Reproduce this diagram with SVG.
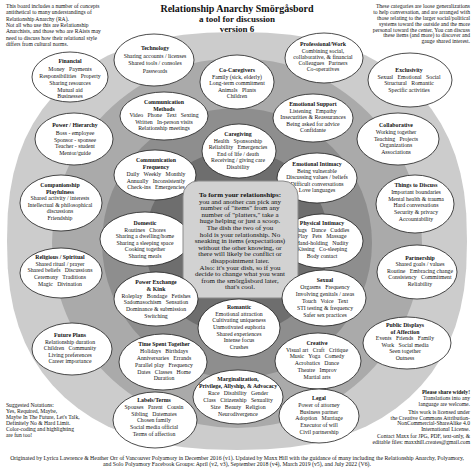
<svg xmlns="http://www.w3.org/2000/svg" width="474" height="475" viewBox="0 0 474 475">
<style>
text{font-family:"Liberation Serif","DejaVu Serif",serif;fill:#111;white-space:pre}
.t{font-size:5.8px;text-anchor:middle}
.b{font-weight:bold}
.n ellipse{fill:#fff;stroke:#1e1e1e;stroke-width:0.8}
.s{font-size:5.6px}
.r{text-anchor:end}
.c{font-size:7px;text-anchor:middle}
.ti{font-weight:bold;text-anchor:middle}
</style>
<rect width="474" height="475" fill="#fff"/>
<g id="background">
<path fill="#cccccc" d="M467,241 L466.27,268.36 464.08,289.59 460.45,308.76 455.38,326.47 448.89,342.96 441.02,358.3 431.77,372.52 421.19,385.61 409.3,397.57 396.13,408.37 381.73,417.99 366.08,426.39 349.2,433.54 331.06,439.44 311.57,444.05 290.47,447.35 267.11,449.34 237,450 206.89,449.34 183.53,447.35 162.43,444.05 142.94,439.44 124.8,433.54 107.92,426.39 92.27,417.99 77.87,408.37 64.7,397.57 52.81,385.61 42.23,372.52 32.98,358.3 25.11,342.96 18.62,326.47 13.55,308.76 9.92,289.59 7.73,268.36 7,241 7.73,213.64 9.92,192.41 13.55,173.24 18.62,155.53 25.11,139.04 32.98,123.7 42.23,109.48 52.81,96.39 64.7,84.43 77.87,73.63 92.27,64.01 107.92,55.61 124.8,48.46 142.94,42.56 162.43,37.95 183.53,34.65 206.89,32.66 237,32 267.11,32.66 290.47,34.65 311.57,37.95 331.06,42.56 349.2,48.46 366.08,55.61 381.73,64.01 396.13,73.63 409.3,84.43 421.19,96.39 431.77,109.48 441.02,123.7 448.89,139.04 455.38,155.53 460.45,173.24 464.08,192.41 466.27,213.64 Z"/>
<circle cx="237" cy="243" r="185" fill="#aaaaaa"/>
<circle cx="237" cy="243" r="135" fill="#8e8e8e"/>
<circle cx="237" cy="242" r="92" fill="#6e6e6e"/>
</g>
<g id="title">
<text class="ti" x="237" y="12" font-size="10">Relationship Anarchy Smörgåsbord</text>
<text class="ti" x="237" y="21.5" font-size="9">a tool for discussion</text>
<text class="ti" x="237" y="31.5" font-size="9">version 6</text>
</g>
<g id="note-top-left" class="s">
<text x="6" y="8">This board includes a number of concepts</text>
<text x="6" y="14.3">antithetical to many understandings of</text>
<text x="6" y="20.6">Relationship Anarchy (RA).</text>
<text x="6" y="26.9">Not all who use this are Relationship</text>
<text x="6" y="33.2">Anarchists, and those who are RAists may</text>
<text x="6" y="39.5">need to discuss how their relational style</text>
<text x="6" y="45.8">differs from cultural norms.</text>
</g>
<g id="note-top-right" class="s r">
<text class="r" x="470" y="8">These categories are loose generalizations</text>
<text class="r" x="470" y="14">to help conversation, and are arranged with</text>
<text class="r" x="470" y="20">those relating to the larger social/political</text>
<text class="r" x="470" y="26">systems toward the outside and the more</text>
<text class="r" x="470" y="31.5">personal toward the center. You can discuss</text>
<text class="r" x="470" y="37">these items (and more) to discover and</text>
<text class="r" x="470" y="43">gauge shared interest.</text>
</g>
<g id="connectors"></g>
<g id="technology" class="n"><ellipse cx="154" cy="60" rx="40" ry="26"/>
<text class="t b" x="155" y="49.5">Technology</text>
<text class="t" x="155" y="58">Sharing accounts / licenses</text>
<text class="t" x="155" y="65">Shared tools / consoles</text>
<text class="t" x="155" y="72.5">Passwords</text></g>
<g id="financial" class="n"><ellipse cx="70" cy="77" rx="38" ry="25"/>
<text class="t b" x="70" y="63">Financial</text>
<text class="t" x="70" y="71">Money   Payments</text>
<text class="t" x="70" y="78">Responsibilities   Property</text>
<text class="t" x="70" y="85">Sharing resources</text>
<text class="t" x="70" y="91.5">Mutual aid</text>
<text class="t" x="70" y="98">Businesses</text></g>
<g id="co-caregivers" class="n"><ellipse cx="237" cy="82" rx="37" ry="27"/>
<text class="t b" x="237" y="72">Co-Caregivers</text>
<text class="t" x="237" y="78.5">Family (sick, elderly)</text>
<text class="t" x="237" y="85">Long-term commitment</text>
<text class="t" x="237" y="91.5">Animals   Plants</text>
<text class="t" x="237" y="98">Children</text></g>
<g id="professional" class="n"><ellipse cx="324" cy="58" rx="39" ry="25"/>
<text class="t b" x="323" y="46">Professional/Work</text>
<text class="t" x="323" y="52.5">Combining social,</text>
<text class="t" x="323" y="58.5">collaborative, &amp; financial</text>
<text class="t" x="323" y="64.5">Colleagues   Partners</text>
<text class="t" x="323" y="71">Co-operatives</text></g>
<g id="exclusivity" class="n"><ellipse cx="410" cy="80" rx="42" ry="27"/>
<text class="t b" x="409" y="72">Exclusivity</text>
<text class="t" x="409" y="78.5">Sexual   Emotional   Social</text>
<text class="t" x="409" y="85">Structural   Romantic</text>
<text class="t" x="409" y="91.5">Specific activities</text></g>
<g id="communication-methods" class="n"><ellipse cx="164" cy="116" rx="44" ry="24"/>
<text class="t b" x="164" y="104">Communication</text>
<text class="t b" x="164" y="110.5">Methods</text>
<text class="t" x="164" y="117">Video   Phone   Text   Sexting</text>
<text class="t" x="164" y="123.5">Written   In-person visits</text>
<text class="t" x="164" y="130">Relationship meetings</text></g>
<g id="power-hierarchy" class="n"><ellipse cx="74" cy="139" rx="39" ry="26"/>
<text class="t b" x="75" y="127">Power / Hierarchy</text>
<text class="t" x="75" y="135">Boss - employee</text>
<text class="t" x="75" y="141.5">Sponsor - sponsee</text>
<text class="t" x="75" y="148">Teacher - student</text>
<text class="t" x="75" y="154.5">Mentor/guide</text></g>
<g id="emotional-support" class="n"><ellipse cx="313" cy="118" rx="40" ry="24"/>
<text class="t b" x="313" y="106">Emotional Support</text>
<text class="t" x="313" y="112.5">Listening   Empathy</text>
<text class="t" x="313" y="119">Insecurities &amp; Reassurances</text>
<text class="t" x="313" y="125.5">Being asked for advice</text>
<text class="t" x="313" y="132">Confidante</text></g>
<g id="collaborative" class="n"><ellipse cx="398" cy="139" rx="41" ry="26"/>
<text class="t b" x="396" y="127">Collaborative</text>
<text class="t" x="396" y="134">Working together</text>
<text class="t" x="396" y="140.5">Teaching   Projects</text>
<text class="t" x="396" y="147">Organizations</text>
<text class="t" x="396" y="154">Associations</text></g>
<g id="caregiving" class="n"><ellipse cx="239" cy="151" rx="37" ry="27"/>
<text class="t b" x="238" y="136">Caregiving</text>
<text class="t" x="238" y="142.5">Health   Sponsorship</text>
<text class="t" x="238" y="149">Reliability   Emergencies</text>
<text class="t" x="238" y="155.5">End of life / death</text>
<text class="t" x="238" y="162">Receiving / giving care</text>
<text class="t" x="238" y="168.5">Disability</text></g>
<g id="communication-frequency" class="n"><ellipse cx="155" cy="175" rx="41" ry="25"/>
<text class="t b" x="156" y="162">Communication</text>
<text class="t b" x="156" y="169">Frequency</text>
<text class="t" x="156" y="176">Daily   Weekly   Monthly</text>
<text class="t" x="156" y="182.5">Annually   Inconsistently</text>
<text class="t" x="156" y="189">Check-ins   Emergencies</text></g>
<g id="emotional-intimacy" class="n"><ellipse cx="317" cy="178" rx="40" ry="25"/>
<text class="t b" x="317" y="166">Emotional Intimacy</text>
<text class="t" x="317" y="172.5">Being vulnerable</text>
<text class="t" x="317" y="179">Discussing values / beliefs</text>
<text class="t" x="317" y="185.5">Difficult conversations</text>
<text class="t" x="317" y="192">Love languages</text></g>
<g id="companionship" class="n"><ellipse cx="61" cy="203" rx="41" ry="28"/>
<text class="t b" x="60" y="187">Companionship</text>
<text class="t b" x="60" y="193.5">Playfulness</text>
<text class="t" x="60" y="200">Shared activity / interests</text>
<text class="t" x="60" y="206.5">Intellectual &amp; philosophical</text>
<text class="t" x="60" y="213">discussions</text>
<text class="t" x="60" y="219.5">Friendship</text></g>
<g id="things-to-discuss" class="n"><ellipse cx="415" cy="204" rx="39" ry="29"/>
<text class="t b" x="416" y="187">Things to Discuss</text>
<text class="t" x="416" y="194">Important boundaries</text>
<text class="t" x="416" y="200.5">Mental health &amp; trauma</text>
<text class="t" x="416" y="207">Hard conversations</text>
<text class="t" x="416" y="214">Security &amp; privacy</text>
<text class="t" x="416" y="220.5">Accountability</text></g>
<g id="domestic" class="n"><ellipse cx="145" cy="239" rx="45" ry="27"/>
<text class="t b" x="145" y="225">Domestic</text>
<text class="t" x="145" y="231.5">Routines   Chores</text>
<text class="t" x="145" y="238">Sharing a dwelling/home</text>
<text class="t" x="145" y="244.5">Sharing a sleeping space</text>
<text class="t" x="145" y="251">Cooking together</text>
<text class="t" x="145" y="257.5">Sharing meals</text></g>
<g id="physical-intimacy" class="n"><ellipse cx="322" cy="241" rx="41" ry="27"/>
<text class="t b" x="322" y="225">Physical Intimacy</text>
<text class="t" x="322" y="231.5">Hugs   Dance   Cuddles</text>
<text class="t" x="322" y="238">Play   Pets   Massage</text>
<text class="t" x="322" y="244.5">Hand-holding   Nudity</text>
<text class="t" x="322" y="251">Kissing   Co-sleeping</text>
<text class="t" x="322" y="257.5">Body contact</text></g>
<g id="center-note">
<rect x="183" y="181" width="115" height="117" rx="15" fill="#d2d2d2" stroke="#8a8a8a" stroke-width="1"/>
<text class="c b" x="240" y="197">To form your relationships:</text>
<text class="c" x="240" y="203.6">you and another can pick any</text>
<text class="c" x="240" y="210.2">number of "items" from any</text>
<text class="c" x="240" y="216.8">number of "platters," take a</text>
<text class="c" x="240" y="223.4">huge helping or just a scoop.</text>
<text class="c" x="240" y="230">The dish the two of you</text>
<text class="c" x="240" y="236.6">hold is your relationship. No</text>
<text class="c" x="240" y="243.2">sneaking in items (expectations)</text>
<text class="c" x="240" y="249.8">without the other knowing, or</text>
<text class="c" x="240" y="256.4">there will likely be conflict or</text>
<text class="c" x="240" y="263">disappointment later.</text>
<text class="c" x="240" y="269.6">Also: it's your dish, so if you</text>
<text class="c" x="240" y="276.2">decide to change what you want</text>
<text class="c" x="240" y="282.8">from the smörgåsbord later,</text>
<text class="c" x="240" y="289.4">that's cool.</text>
</g>
<g id="religious-spiritual" class="n"><ellipse cx="61" cy="273" rx="41" ry="25"/>
<text class="t b" x="60" y="259">Religious / Spiritual</text>
<text class="t" x="60" y="265.5">Shared ritual / prayer</text>
<text class="t" x="60" y="272">Shared beliefs   Discussions</text>
<text class="t" x="60" y="279">Ceremony   Traditions</text>
<text class="t" x="60" y="285.5">Magic   Divination</text></g>
<g id="partnership" class="n"><ellipse cx="417" cy="272" rx="40" ry="27"/>
<text class="t b" x="420" y="260">Partnership</text>
<text class="t" x="420" y="266">Shared goals / values</text>
<text class="t" x="420" y="272.5">Routine   Embracing change</text>
<text class="t" x="420" y="279">Consistency   Commitment</text>
<text class="t" x="420" y="285.5">Reliability</text></g>
<g id="power-exchange" class="n"><ellipse cx="156" cy="299" rx="42" ry="27"/>
<text class="t b" x="156" y="284">Power Exchange</text>
<text class="t b" x="156" y="291">&amp; Kink</text>
<text class="t" x="156" y="297.5">Roleplay   Bondage   Fetishes</text>
<text class="t" x="156" y="304">Sadomasochism   Sensation</text>
<text class="t" x="156" y="310.5">Dominance &amp; submission</text>
<text class="t" x="156" y="317.5">Switching</text></g>
<g id="sexual" class="n"><ellipse cx="324" cy="298" rx="42" ry="28"/>
<text class="t b" x="325" y="282">Sexual</text>
<text class="t" x="325" y="289">Orgasms   Frequency</text>
<text class="t" x="325" y="295.5">Involving genitals / areas</text>
<text class="t" x="325" y="302.5">Touch   Voice   Text</text>
<text class="t" x="325" y="309.5">STI testing &amp; frequency</text>
<text class="t" x="325" y="316.5">Safer sex practices</text></g>
<g id="romantic" class="n"><ellipse cx="239" cy="328" rx="41" ry="29"/>
<text class="t b" x="239" y="309">Romantic</text>
<text class="t" x="239" y="315.7">Emotional attraction</text>
<text class="t" x="239" y="322.4">Cultivating uniqueness</text>
<text class="t" x="239" y="329">Unmotivated euphoria</text>
<text class="t" x="239" y="335.7">Shared experiences</text>
<text class="t" x="239" y="342.4">Intense focus</text>
<text class="t" x="239" y="349">Crushes</text></g>
<g id="future-plans" class="n"><ellipse cx="72" cy="349" rx="40" ry="26"/>
<text class="t b" x="70" y="337">Future Plans</text>
<text class="t" x="70" y="343.5">Relationship duration</text>
<text class="t" x="70" y="350">Children   Community</text>
<text class="t" x="70" y="356.5">Living preferences</text>
<text class="t" x="70" y="363">Career importance</text></g>
<g id="public-displays" class="n"><ellipse cx="407" cy="343" rx="44" ry="26"/>
<text class="t b" x="405" y="327">Public Displays</text>
<text class="t b" x="405" y="333.5">of Affection</text>
<text class="t" x="405" y="340">Events   Friends   Family</text>
<text class="t" x="405" y="346.5">Work   Social media</text>
<text class="t" x="405" y="353">Seen together</text>
<text class="t" x="405" y="359.5">Outness</text></g>
<g id="time-spent" class="n"><ellipse cx="163" cy="362" rx="44" ry="28"/>
<text class="t b" x="164" y="346">Time Spent Together</text>
<text class="t" x="164" y="353">Holidays   Birthdays</text>
<text class="t" x="164" y="360">Anniversaries   Errands</text>
<text class="t" x="164" y="366.5">Parallel play   Frequency</text>
<text class="t" x="164" y="373.5">Dates   Classes   Home</text>
<text class="t" x="164" y="380">Duration</text></g>
<g id="creative" class="n"><ellipse cx="318" cy="361" rx="43" ry="28"/>
<text class="t b" x="317" y="345">Creative</text>
<text class="t" x="317" y="351.5">Visual art   Craft   Critique</text>
<text class="t" x="317" y="358">Music   Yoga   Comedy</text>
<text class="t" x="317" y="365">Acrobatics   Dance</text>
<text class="t" x="317" y="372">Theatre   Improv</text>
<text class="t" x="317" y="378.5">Martial arts</text></g>
<g id="marginalization" class="n"><ellipse cx="238" cy="397" rx="45" ry="27"/>
<text class="t b" x="238" y="381">Marginalization,</text>
<text class="t b" x="238" y="388">Privilege, Allyship, &amp; Advocacy</text>
<text class="t" x="238" y="395">Race   Disability   Gender</text>
<text class="t" x="238" y="402">Class   Citizenship   Sexuality</text>
<text class="t" x="238" y="409">Size   Beauty   Religion</text>
<text class="t" x="238" y="415.5">Neurodivergence</text></g>
<g id="labels-terms" class="n"><ellipse cx="155" cy="420" rx="42" ry="28"/>
<text class="t b" x="154" y="402">Labels/Terms</text>
<text class="t" x="154" y="409">Spouses   Parent   Cousin</text>
<text class="t" x="154" y="415.5">Sibling   Datemates</text>
<text class="t" x="154" y="422">Chosen family</text>
<text class="t" x="154" y="429">Social media official</text>
<text class="t" x="154" y="435.5">Terms of affection</text></g>
<g id="legal" class="n"><ellipse cx="319" cy="416" rx="40" ry="27"/>
<text class="t b" x="319" y="400">Legal</text>
<text class="t" x="319" y="407">Power of attorney</text>
<text class="t" x="319" y="413.5">Business partner</text>
<text class="t" x="319" y="420">Adoption   Marriage</text>
<text class="t" x="319" y="427">Executor of will</text>
<text class="t" x="319" y="434">Civil partnership</text></g>
<g id="note-bottom-left" class="s">
<text x="6" y="407">Suggested Notations:</text>
<text x="6" y="413">Yes, Required, Maybe,</text>
<text x="6" y="419">Maybe In The Future, Let's Talk,</text>
<text x="6" y="425">Definitely No &amp; Hard Limit.</text>
<text x="6" y="431">Color-coding and highlighting</text>
<text x="6" y="437">are fun too!</text>
</g>
<g id="note-bottom-right" class="s">
<text class="r b" x="470" y="394">Please share widely!</text>
<text class="r" x="470" y="400">Translations into any</text>
<text class="r" x="470" y="406">language are welcome.</text>
<text class="r" x="470" y="414">This work is licensed under</text>
<text class="r" x="470" y="419.5">the Creative Commons Attribution-</text>
<text class="r" x="470" y="425">NonCommercial-ShareAlike 4.0</text>
<text class="r" x="470" y="430.5">International License.</text>
<text class="r" x="470" y="438">Contact Maxx for JPG, PDF, text-only, &amp;</text>
<text class="r" x="470" y="444">editable files: maxxhill.creates@gmail.com</text>
</g>
<g id="footer" class="s">
<text class="t" x="237" y="460" font-size="5.6">Originated by Lyrica Lawrence &amp; Heather Orr of Vancouver Polyamory in December 2016 (v1). Updated by Maxx Hill with the guidance of many including the Relationship Anarchy, Polyamory,</text>
<text class="t" x="237" y="466" font-size="5.6">and Solo Polyamory Facebook Groups: April (v2, v3), September 2018 (v4), March 2019 (v5), and July 2022 (V6).</text>
</g>
</svg>
